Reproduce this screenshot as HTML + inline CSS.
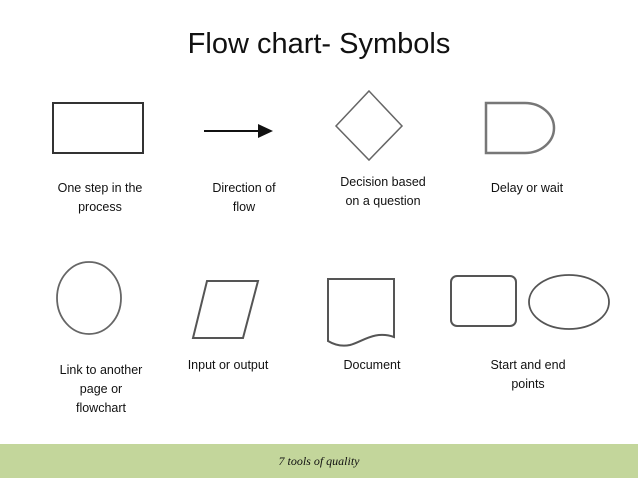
<!DOCTYPE html>
<html><head><style>
html,body{margin:0;padding:0;background:#fff;}
body{width:638px;height:479px;overflow:hidden;position:relative;font-family:"Liberation Sans",sans-serif;}
.t{position:absolute;font-size:12.5px;color:#111;text-align:center;line-height:19px;}
</style></head><body>
<div style="position:absolute;left:0;width:638px;top:28px;text-align:center;font-size:29px;color:#111;">Flow chart- Symbols</div>
<svg width="638" height="479" style="position:absolute;left:0;top:0">
<rect x="53" y="103" width="90" height="50" fill="none" stroke="#333" stroke-width="2"/>
<line x1="204" y1="131" x2="260" y2="131" stroke="#111" stroke-width="2"/>
<polygon points="258,124 273,131 258,138" fill="#111"/>
<polygon points="369,91 402,126 369,160 336,126" fill="none" stroke="#666" stroke-width="1.5"/>
<path d="M486,103 H525 A29,25 0 0 1 525,153 H486 Z" fill="none" stroke="#777" stroke-width="2.5"/>
<ellipse cx="89" cy="298" rx="32" ry="36" fill="none" stroke="#666" stroke-width="1.8"/>
<polygon points="207,281 258,281 243,338 193,338" fill="none" stroke="#555" stroke-width="2"/>
<path d="M328,279 H394 V337 C375,330 362,342 350,345 C340,347 333,344 328,341 Z" fill="none" stroke="#555" stroke-width="2"/>
<rect x="451" y="276" width="65" height="50" rx="6" fill="none" stroke="#555" stroke-width="2"/>
<ellipse cx="569" cy="302" rx="40" ry="27" fill="none" stroke="#555" stroke-width="1.8"/>
</svg>
<div class="t" style="left:40px;width:120px;top:179px">One step in the<br>process</div>
<div class="t" style="left:184px;width:120px;top:179px">Direction of<br>flow</div>
<div class="t" style="left:323px;width:120px;top:173px">Decision based<br>on a question</div>
<div class="t" style="left:467px;width:120px;top:179px">Delay or wait</div>
<div class="t" style="left:41px;width:120px;top:361px">Link to another<br>page or<br>flowchart</div>
<div class="t" style="left:168px;width:120px;top:356px">Input or output</div>
<div class="t" style="left:312px;width:120px;top:356px">Document</div>
<div class="t" style="left:468px;width:120px;top:356px">Start and end<br>points</div>
<div style="position:absolute;left:0;top:444px;width:638px;height:34px;background:#c3d69b;text-align:center;font-family:'Liberation Serif',serif;font-style:italic;font-size:12px;line-height:34px;color:#111">7 tools of quality</div>
</body></html>
